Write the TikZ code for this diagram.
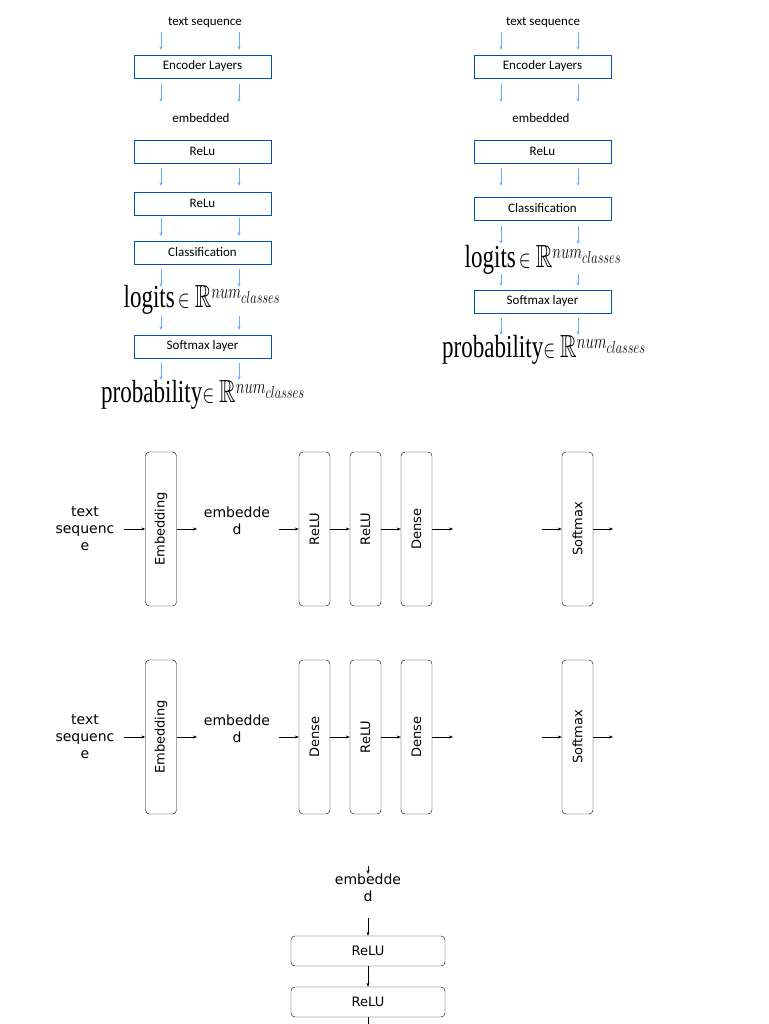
\documentclass[tikz,border=0pt]{standalone}
\usepackage{amssymb}
\usepackage{fontspec}
\usetikzlibrary{arrows.meta}
\setmainfont{DejaVu Sans}
\newfontfamily\calfnt{Carlito}
\newfontfamily\serfnt{Liberation Serif}
\newcommand{\mathlbl}[1]{\scalebox{0.72}[1]{#1}}
\begin{document}
\begin{tikzpicture}[x=1pt,y=-1pt,
  bl/.style={draw=blue!55!cyan!70!black,line width=0.7pt},
  ba/.style={draw=blue!55!cyan!60,-{Stealth[length=4pt,width=3pt]},line width=0.6pt},
  hb/.style={bl,minimum width=137pt,minimum height=23pt,inner sep=0pt,font=\calfnt\fontsize{13}{13}\selectfont},
  tt/.style={font=\calfnt\fontsize{13}{13}\selectfont},
  mt/.style={font=\serfnt\fontsize{32}{32}\selectfont,inner sep=0pt},
  vb/.style={draw,rounded corners=4pt,minimum width=31pt,minimum height=154pt,inner sep=0pt},
  vt/.style={rotate=90,font=\fontsize{13}{13}\selectfont},
  ka/.style={-{Stealth[length=4pt,width=3pt]},line width=0.5pt},
  lt/.style={font=\fontsize{14}{17}\selectfont,align=center},
  wb/.style={draw,rounded corners=4pt,minimum width=154pt,minimum height=30pt,inner sep=0pt,font=\fontsize{13}{13}\selectfont}]
\useasboundingbox (0,0) rectangle (768,1024);
% ---- top left
\node[tt] (t1) at (205,22) {text sequence};
\node[hb] (e1) at (202.5,66.5) {Encoder Layers};
\node[tt] (m1) at (201,118) {embedded};
\node[hb] (r1a) at (202.5,151.5) {ReLu};
\node[hb] (r1b) at (202.5,203.5) {ReLu};
\node[hb] (c1) at (202.5,252.5) {Classification};
\node[mt] (l1) at (202,300) {\mathlbl{logits$\,\in\mathbb{R}^{num_{classes}}$}};
\node[hb] (s1) at (202.5,346.5) {Softmax layer};
\node[mt] (p1) at (203,395) {\mathlbl{probability$\in\mathbb{R}^{num_{classes}}$}};
\foreach \x in {161,239}{
 \draw[ba] (\x,32)--(\x,50); \draw[ba] (\x,84)--(\x,102);
 \draw[ba] (\x,168)--(\x,186); \draw[ba] (\x,218)--(\x,236);
 \draw[ba] (\x,269)--(\x,287); \draw[ba] (\x,316)--(\x,330);
 \draw[ba] (\x,363)--(\x,380);}
% ---- top right
\node[tt] (t2) at (543,22) {text sequence};
\node[hb] (e2) at (542.5,66.5) {Encoder Layers};
\node[tt] (m2) at (541,118) {embedded};
\node[hb] (r2) at (542.5,151.5) {ReLu};
\node[hb] (c2) at (542.5,208.5) {Classification};
\node[mt] (l2) at (543,260) {\mathlbl{logits$\,\in\mathbb{R}^{num_{classes}}$}};
\node[hb] (s2) at (542.5,301.5) {Softmax layer};
\node[mt] (p2) at (544,350) {\mathlbl{probability$\in\mathbb{R}^{num_{classes}}$}};
\foreach \x in {501,578}{
 \draw[ba] (\x,32)--(\x,50); \draw[ba] (\x,84)--(\x,102);
 \draw[ba] (\x,168)--(\x,186); \draw[ba] (\x,226)--(\x,244);
 \draw[ba] (\x,274)--(\x,286); \draw[ba] (\x,318)--(\x,335);}
% ---- middle rows
\foreach \y/\a/\b/\c/\r in {529/ReLU/ReLU/Dense/A,737/Dense/ReLU/Dense/B}{
 \node[lt] (ts\r) at (85,\y) {text\\sequenc\\e};
 \node[vb,label={[vt]center:Embedding}] (em\r) at (161,\y) {};
 \node[lt] (ed\r) at (237,\y-8) {embedde\\d};
 \node[vb,label={[vt]center:\a}] (x\r) at (314.5,\y) {};
 \node[vb,label={[vt]center:\b}] (y\r) at (365.5,\y) {};
 \node[vb,label={[vt]center:\c}] (z\r) at (416.5,\y) {};
 \node[vb,label={[vt]center:Softmax}] (sm\r) at (577.5,\y) {};
 \coordinate (p0\r) at (124,\y); \coordinate (p1\r) at (197,\y);
 \coordinate (p2\r) at (279,\y); \coordinate (p3\r) at (453,\y);
 \coordinate (p4\r) at (542,\y); \coordinate (p5\r) at (613,\y);
 \draw[ka] (p0\r)--(em\r.west); \draw[ka] (em\r.east)--(p1\r);
 \draw[ka] (p2\r)--(x\r.west); \draw[ka] (x\r.east)--(y\r.west);
 \draw[ka] (y\r.east)--(z\r.west); \draw[ka] (z\r.east)--(p3\r);
 \draw[ka] (p4\r)--(sm\r.west); \draw[ka] (sm\r.east)--(p5\r);}
% ---- bottom
\node[lt] (eb) at (368,888) {embedde\\d};
\node[wb] (ra) at (368,951) {ReLU};
\node[wb] (rb) at (368,1002) {ReLU};
\coordinate (q0) at (368,866); \coordinate (q1) at (368,874);
\coordinate (q2) at (368,918); \coordinate (q3) at (368,1026);
\draw[ka] (q0)--(q1); \draw[ka] (q2)--(ra); \draw[ka] (ra)--(rb); \draw (rb)--(q3);
\end{tikzpicture}
\end{document}
